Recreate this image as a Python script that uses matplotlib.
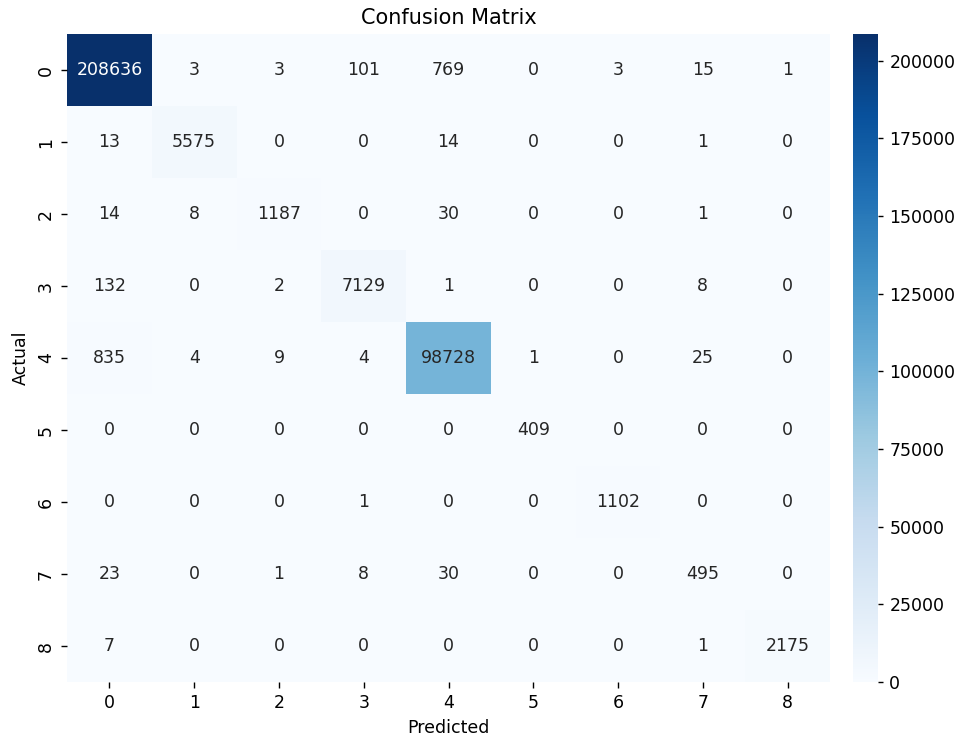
import numpy as np
import matplotlib
matplotlib.use("Agg")
import matplotlib.pyplot as plt
import seaborn as sns

labels = [str(i) for i in range(9)]
row0 = [208636, 3, 3, 101, 769, 0, 3, 15, 1]
row1 = [13, 5575, 0, 0, 14, 0, 0, 1, 0]
row2 = [14, 8, 1187, 0, 30, 0, 0, 1, 0]
row3 = [132, 0, 2, 7129, 1, 0, 0, 8, 0]
row4 = [835, 4, 9, 4, 98728, 1, 0, 25, 0]
row5 = [0, 0, 0, 0, 0, 409, 0, 0, 0]
row6 = [0, 0, 0, 1, 0, 0, 1102, 0, 0]
row7 = [23, 0, 1, 8, 30, 0, 0, 495, 0]
row8 = [7, 0, 0, 0, 0, 0, 0, 1, 2175]

cm = np.array([row0, row1, row2, row3, row4, row5, row6, row7, row8])

dpi = 125
fig = plt.figure(figsize=(976 / dpi, 742 / dpi), dpi=dpi)
ax = fig.add_axes([67 / 976, 1 - 682 / 742, (830 - 67) / 976, (682 - 34) / 742])
cax = fig.add_axes([853 / 976, 1 - 682 / 742, 25 / 976, (682 - 34) / 742])

sns.heatmap(cm, annot=True, fmt="d", cmap="Blues", ax=ax, cbar_ax=cax,
            xticklabels=labels, yticklabels=labels)
ax.set_title("Confusion Matrix")
ax.set_xlabel("Predicted")
ax.set_ylabel("Actual")
cax.set_yticks([0, 25000, 50000, 75000, 100000, 125000, 150000, 175000, 200000])
cax.tick_params(length=3)

fig.savefig("out.png", dpi=dpi)
